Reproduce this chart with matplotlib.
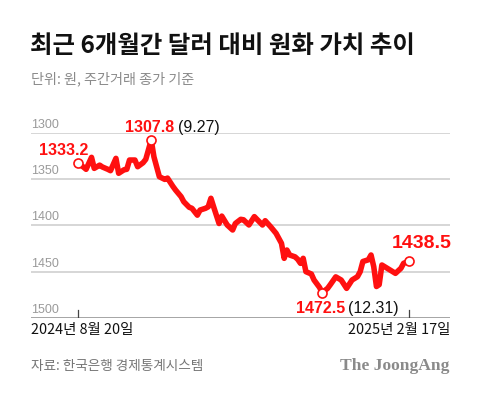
import matplotlib
matplotlib.use("Agg")
import matplotlib.pyplot as plt

KR = ["Noto Sans CJK KR", "DejaVu Sans"]
NUM = ["Liberation Sans", "DejaVu Sans"]
plt.rcParams["font.family"] = KR

# trading-day index since 2024-08-20 and closing KRW per USD
day = [0, 2, 3, 5, 6, 8, 9, 11, 12, 14, 15, 17, 18, 19, 21, 22, 24, 25, 27, 28,
       30, 32, 33, 35, 36, 38, 39, 41, 42, 44, 45, 47, 48, 49, 50, 52, 53, 55, 57, 58,
       60, 61, 63, 65, 68, 69, 71, 73, 75, 76, 77, 78, 80, 81, 82, 83, 84, 86, 87, 89,
       90, 92, 93, 95, 97, 99, 101, 103, 104, 105, 107, 108, 109, 110, 111, 112, 114, 117, 119, 120,
       122]
rate = [1333.2, 1337.0, 1339.5, 1326.6, 1338.5, 1335.0, 1337.0, 1339.5, 1341.0, 1327.7,
        1343.8, 1340.0, 1339.5, 1329.5, 1329.5, 1336.7, 1332.4, 1328.7, 1307.8, 1326.0,
        1347.5, 1350.4, 1349.0, 1358.0, 1362.0, 1369.0, 1374.5, 1380.5, 1381.6, 1389.0,
        1383.5, 1381.6, 1380.0, 1370.8, 1380.0, 1398.0, 1390.0, 1399.6, 1405.0, 1398.0,
        1393.5, 1394.0, 1399.6, 1390.6, 1399.6, 1395.0, 1401.5, 1408.6, 1419.4, 1435.6,
        1426.6, 1432.0, 1434.0, 1436.7, 1441.0, 1435.6, 1450.0, 1452.5, 1459.0, 1466.9,
        1472.5, 1468.0, 1464.0, 1455.6, 1459.0, 1468.0, 1459.0, 1455.4, 1450.0, 1439.0,
        1437.2, 1432.0, 1444.6, 1466.0, 1464.0, 1442.8, 1446.4, 1451.8, 1446.4, 1441.0,
        1438.5]
yticks = [1300, 1350, 1400, 1450, 1500]
xlabels = ["2024년 8월 20일", "2025년 2월 17일"]

RED = "#ff1010"
W, H = 480, 394

fig = plt.figure(figsize=(W / 100, H / 100), dpi=100)
ax = fig.add_axes([31 / W, 1 - 318 / H, (450 - 31) / W, (318 - 132.7) / H])
ax.set_xlim(-17.3, 137.1)
ax.set_ylim(1500, 1300)
ax.axis("off")

for v in yticks:
    if v == 1500:
        ax.axhline(v, color="#8a8a8a", lw=1.8, zorder=1)
    else:
        ax.axhline(v, color="#d0d0d0", lw=1.2, zorder=1)
    ax.annotate(str(v), (ax.get_xlim()[0], v), xytext=(0, 1.5), textcoords="offset points",
                ha="left", va="bottom", color="#9a9a9a", fontsize=9, family=NUM)

ax.plot(day, rate, color=RED, lw=4.0, solid_joinstyle="round", solid_capstyle="round", zorder=3)

# highlight points
i_max = rate.index(min(rate))
i_min = rate.index(max(rate))
for i in [0, i_max, i_min, len(rate) - 1]:
    ax.plot(day[i], rate[i], "o", ms=6.5, mfc="white", mec=RED, mew=1.2, zorder=4)

ax.annotate(f"{rate[0]}", (day[0], rate[0]), xytext=(7.2, 9.4), textcoords="offset points",
            ha="right", va="center", color=RED, fontsize=11.5, weight="bold", family=NUM)
ax.annotate(f"{rate[i_max]}", (day[i_max], rate[i_max]), xytext=(16.6, 8.6), textcoords="offset points",
            ha="right", va="center", color=RED, fontsize=11.5, weight="bold", family=NUM)
ax.annotate("(9.27)", (day[i_max], rate[i_max]), xytext=(19.4, 8.6), textcoords="offset points",
            ha="left", va="center", color="#111111", fontsize=11.5, family=NUM)
ax.annotate(f"{rate[i_min]}", (day[i_min], rate[i_min]), xytext=(16.8, -11.5), textcoords="offset points",
            ha="right", va="center", color=RED, fontsize=11.5, weight="bold", family=NUM)
ax.annotate("(12.31)", (day[i_min], rate[i_min]), xytext=(18.4, -11.5), textcoords="offset points",
            ha="left", va="center", color="#111111", fontsize=11.5, family=NUM)
ax.annotate(f"{rate[-1]}", (day[-1], rate[-1]), xytext=(9.4, 12.7), textcoords="offset points",
            ha="center", va="center", color=RED, fontsize=14, weight="bold", family=NUM)

# x ticks
for d in [day[0], day[-1]]:
    ax.plot([d, d], [1500, 1491.5], color="#444444", lw=0.9, zorder=2)
fig.text(31 / W, 1 - 330 / H, xlabels[0], ha="left", va="center", fontsize=10.4, color="#111111")
fig.text(450 / W, 1 - 330 / H, xlabels[1], ha="right", va="center", fontsize=10.4, color="#111111")

fig.text(30 / W, 1 - 46 / H, "최근 6개월간 달러 대비 원화 가치 추이", ha="left", va="center",
         fontsize=17.6, weight="bold", color="#111111")
fig.text(31 / W, 1 - 79 / H, "단위: 원, 주간거래 종가 기준", ha="left", va="center",
         fontsize=10.2, color="#8a8a8a")
fig.text(31 / W, 1 - 366 / H, "자료: 한국은행 경제통계시스템", ha="left", va="center",
         fontsize=9.8, color="#777777")
fig.text(449 / W, 1 - 366 / H, "The JoongAng", ha="right", va="center",
         fontsize=12.6, weight="bold", color="#8a8a8a", family=["Liberation Serif", "DejaVu Serif"])

fig.savefig("out.png", dpi=100)
